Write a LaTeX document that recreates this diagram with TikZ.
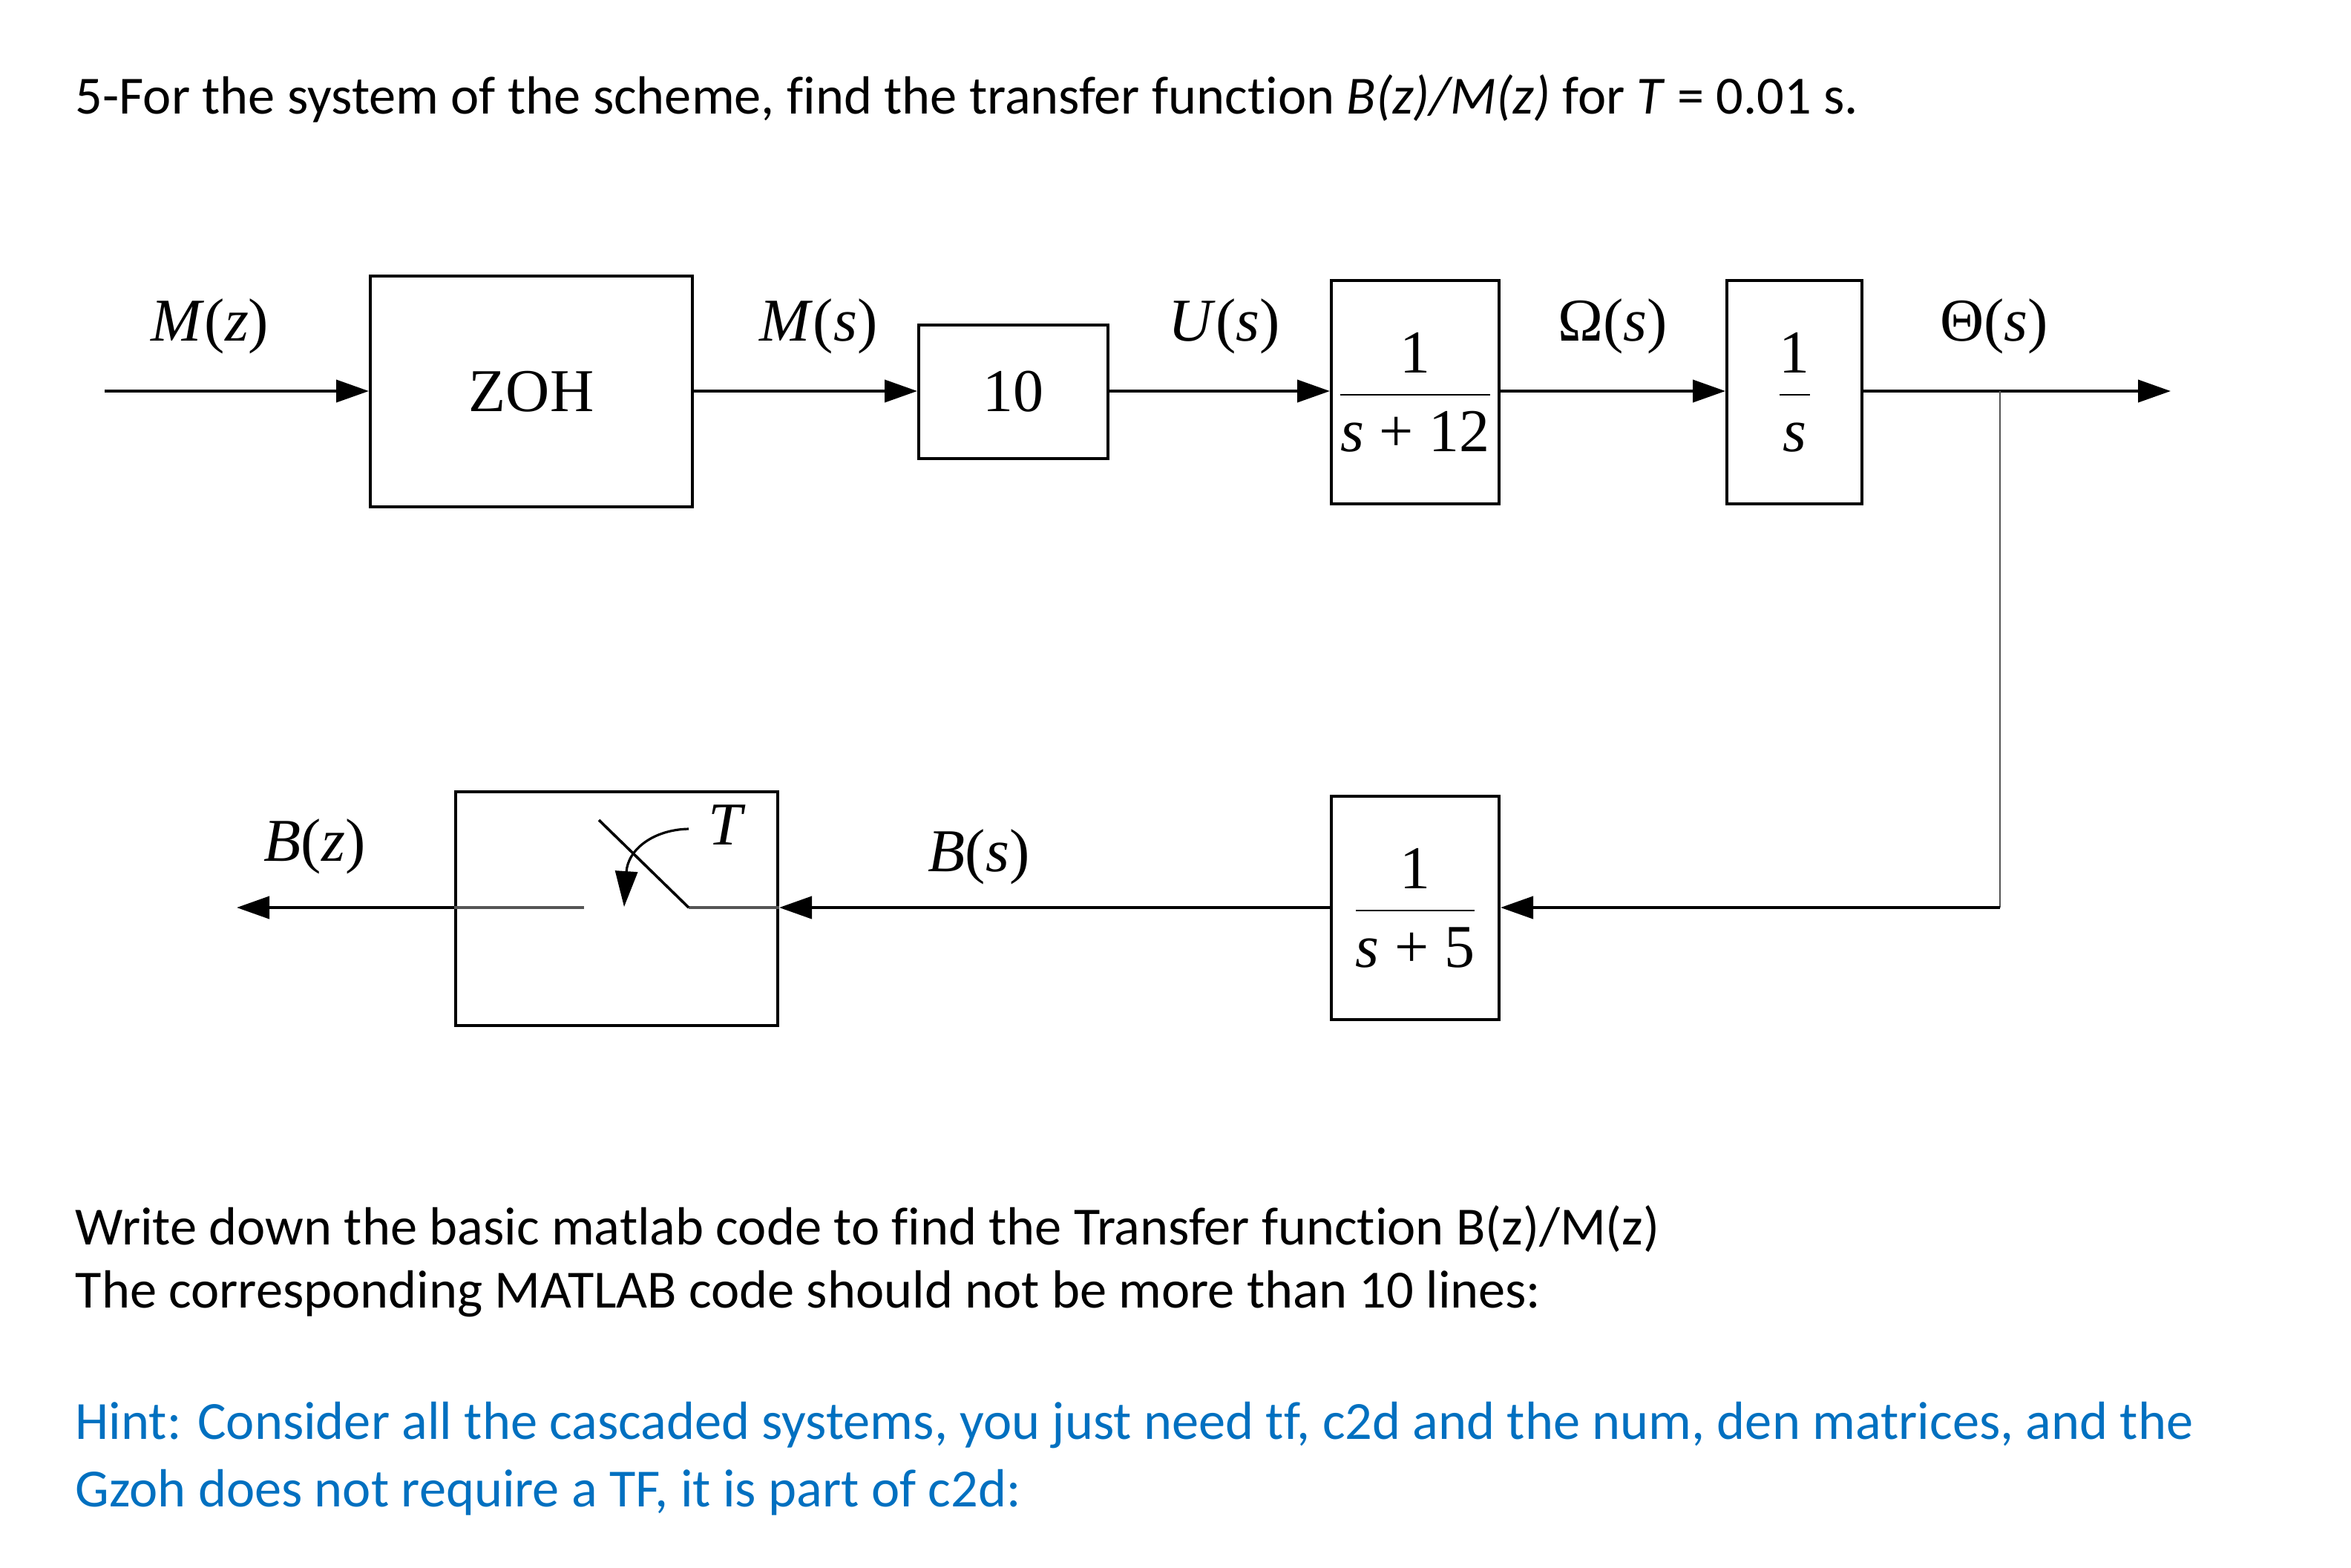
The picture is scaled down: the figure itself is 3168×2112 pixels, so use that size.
\documentclass[tikz,border=0pt]{standalone}
\usepackage{fontspec}
\setmainfont[Ligatures=CommonOff]{Carlito}
\newfontfamily\dfont{Liberation Serif}
\usetikzlibrary{arrows.meta}
\definecolor{hintblue}{HTML}{0070C0}
\definecolor{inner}{HTML}{555555}
\newcommand\fr[2]{{\renewcommand{\arraystretch}{1}\begin{tabular}{@{}c@{}}\rule{0pt}{20.8pt}#1\\\hline\rule{0pt}{19pt}#2\end{tabular}}}
\tikzset{
  blk/.style={draw, line width=1pt, inner sep=0pt, font=\dfont\fontsize{20.5}{24}\selectfont},
  lbl/.style={inner sep=0pt, font=\dfont\fontsize{20.5}{24}\selectfont},
  sig/.style={line width=1pt, -{Triangle[length=11pt,width=7.5pt]}},
  txt/.style={anchor=base west, inner sep=0pt, font=\fontsize{18.1}{22}\selectfont},
}
\begin{document}
\begin{tikzpicture}[x=0.25pt,y=-0.25pt]
\useasboundingbox (0,0) rectangle (3168,2112);
% title
\node[txt] (title) at (101,153) {5-For the system of the scheme, find the transfer function \textit{B(z)/M(z)} for \textit{T} = 0.01 s.};
% blocks
\node[blk, minimum width=108.5pt, minimum height=77.75pt] (zoh) at (716,527.5) {ZOH};
\node[blk, minimum width=63.75pt, minimum height=45pt] (k) at (1365.5,528) {10};
\node[blk, minimum width=56.5pt, minimum height=75.25pt] (g1) at (1907,528.5) {\fr{1}{\textit{s} + 12}};
\node[blk, minimum width=45.5pt, minimum height=75.25pt] (int) at (2418,528.5) {\fr{1}{\textit{s}}};
\node[blk, minimum width=108.5pt, minimum height=78.75pt] (samp) at (831,1224.5) {};
\node[blk, minimum width=56.5pt, minimum height=75.25pt] (h) at (1907,1223.5) {\fr{1}{\textit{s} + 5}};
% coordinates
\coordinate (in) at (141,527);
\coordinate (out) at (2925,527);
\coordinate (br) at (2695,527);
\coordinate (brd) at (2695,1223);
\coordinate (fbout) at (319,1223);
% forward path
\draw[sig] (in) -- (zoh.west |- in);
\draw[sig] (zoh.east |- in) -- (k.west |- in);
\draw[sig] (k.east |- in) -- (g1.west |- in);
\draw[sig] (g1.east |- in) -- (int.west |- in);
\draw[sig] (int.east |- in) -- (out);
% feedback
\draw[line width=0.7pt, draw=inner] (br) -- (brd);
\draw[sig] (brd) -- (h.east |- brd);
\draw[sig] (h.west |- brd) -- (samp.east |- brd);
\draw[sig] (samp.west |- brd) -- (fbout);
% sampler internals
\coordinate (s1) at (787,1223);
\coordinate (s2) at (928,1223);
\coordinate (s3) at (807,1105);
\draw[line width=1pt, draw=inner] (samp.west |- brd) -- (s1);
\draw[line width=1pt, draw=inner] (s2) -- (samp.east |- brd);
\draw[line width=0.9pt] (s2) -- (s3);
\draw[line width=0.8pt, -{Triangle[length=12pt,width=7.5pt]}] (928,1117) .. controls (880,1118) and (846,1145) .. (841,1222);
% labels
\node[lbl] (lMz) at (283,440) {\textit{M}(\textit{z})};
\node[lbl] (lMs) at (1103,440) {\textit{M}(\textit{s})};
\node[lbl] (lUs) at (1650,440) {\textit{U}(\textit{s})};
\node[lbl] (lWs) at (2173,440) {Ω(\textit{s})};
\node[lbl] (lTs) at (2687,440) {Θ(\textit{s})};
\node[lbl] (lBz) at (424,1141) {\textit{B}(\textit{z})};
\node[lbl] (lBs) at (1319,1155) {\textit{B}(\textit{s})};
\node[lbl] (lT) at (980,1112) {\textit{T}};
% bottom text
\node[txt] (w1) at (101,1677) {Write down the basic matlab code to find the Transfer function B(z)/M(z)};
\node[txt] (w2) at (101,1762) {The corresponding MATLAB code should not be more than 10 lines:};
\node[txt, text=hintblue] (h1) at (101,1939) {Hint: Consider all the cascaded systems, you just need tf, c2d and the num, den matrices, and the};
\node[txt, text=hintblue] (h2) at (101,2030) {Gzoh does not require a TF, it is part of c2d:};
\end{tikzpicture}
\end{document}
